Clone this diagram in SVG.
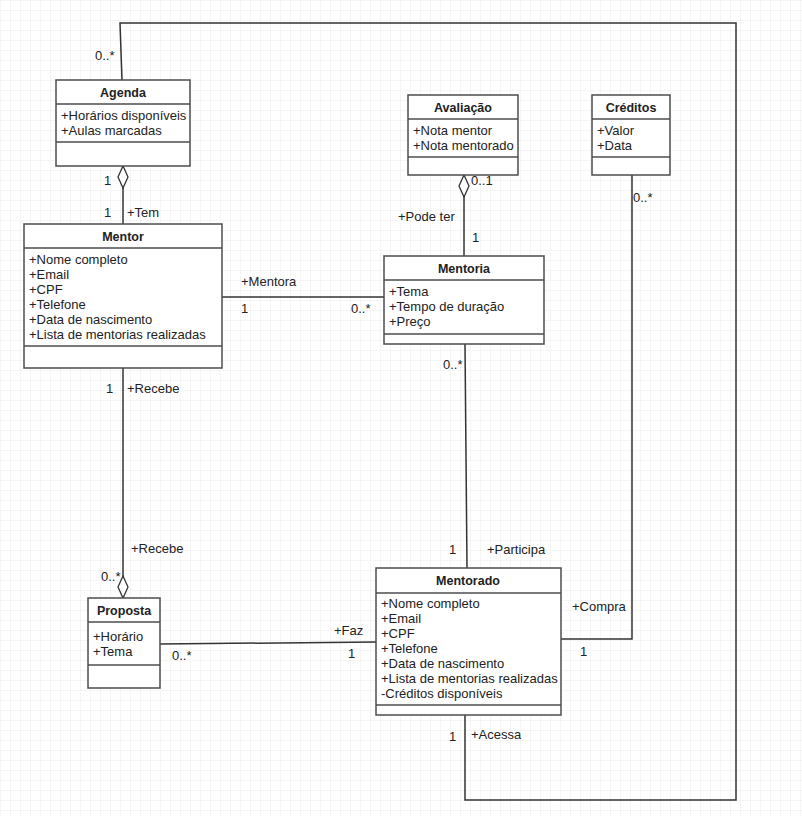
<svg xmlns="http://www.w3.org/2000/svg" width="802" height="816" viewBox="0 0 802 816">
<style>
.box{fill:#fff;stroke:#4d4d4d;stroke-width:1.5}
.ln{stroke:#4d4d4d;stroke-width:1.5;fill:none}
.c{stroke:#333;stroke-width:1.5;fill:none}
text{font-family:"Liberation Sans",Arial,sans-serif;font-size:13px;fill:#222}
.t{font-weight:bold;text-anchor:middle;font-size:12.5px}
</style>
<defs>
<pattern id="g" width="10" height="10" patternUnits="userSpaceOnUse"><path d="M10 0H0V10" fill="none" stroke="#ececec" stroke-width="1"/></pattern>
<marker id="dia" markerWidth="24" markerHeight="12" refX="23" refY="6" orient="auto" markerUnits="userSpaceOnUse"><path d="M1 6 L12 1 L23 6 L12 11 Z" fill="#fff" stroke="#333" stroke-width="1.3"/></marker>
</defs>
<rect width="802" height="816" fill="#fff"/>
<rect width="802" height="816" fill="url(#g)"/>
<g id="connectors">
<path class="c" d="M122 80 L120 23 L736 23 L736 800 L465 800 L465 715"/>
<path class="c" d="M123 224 L123 166" marker-end="url(#dia)"/>
<path class="c" d="M222 297 L384 297"/>
<path class="c" d="M464 256 L464 175" marker-end="url(#dia)"/>
<path class="c" d="M465 344 L467 568"/>
<path class="c" d="M632 175 L632 639 L561 639"/>
<path class="c" d="M123 368 L123 598" marker-end="url(#dia)"/>
<path class="c" d="M160 644 L376 642"/>
</g>
<g id="labels">
<text x="95" y="60">0..*</text>
<text x="104" y="185">1</text>
<text x="104" y="217">1</text>
<text x="127" y="217">+Tem</text>
<text x="241" y="286">+Mentora</text>
<text x="241" y="313">1</text>
<text x="351" y="313">0..*</text>
<text x="471" y="185">0..1</text>
<text x="398" y="221">+Pode ter</text>
<text x="472" y="242">1</text>
<text x="633" y="202">0..*</text>
<text x="106" y="393">1</text>
<text x="127" y="393">+Recebe</text>
<text x="443" y="369">0..*</text>
<text x="131" y="553">+Recebe</text>
<text x="101" y="581">0..*</text>
<text x="449" y="554">1</text>
<text x="487" y="554">+Participa</text>
<text x="572" y="611">+Compra</text>
<text x="580" y="656">1</text>
<text x="334" y="635">+Faz</text>
<text x="348" y="658">1</text>
<text x="172" y="660">0..*</text>
<text x="449" y="741">1</text>
<text x="471" y="739">+Acessa</text>
</g>
<g id="agenda">
<rect class="box" x="56" y="80" width="134" height="86"/>
<path class="ln" d="M56 104H190M56 142H190"/>
<text class="t" x="123" y="97">Agenda</text>
<text x="61" y="120">+Horários disponíveis</text>
<text x="61" y="135">+Aulas marcadas</text>
</g>
<g id="mentor">
<rect class="box" x="24" y="224" width="198" height="144"/>
<path class="ln" d="M24 248H222M24 346H222"/>
<text class="t" x="123" y="241">Mentor</text>
<text x="29" y="264">+Nome completo</text>
<text x="29" y="279">+Email</text>
<text x="29" y="294">+CPF</text>
<text x="29" y="309">+Telefone</text>
<text x="29" y="324">+Data de nascimento</text>
<text x="29" y="339">+Lista de mentorias realizadas</text>
</g>
<g id="avaliacao">
<rect class="box" x="408" y="95" width="110" height="80"/>
<path class="ln" d="M408 119H518M408 157H518"/>
<text class="t" x="463" y="112">Avaliação</text>
<text x="413" y="135">+Nota mentor</text>
<text x="413" y="150">+Nota mentorado</text>
</g>
<g id="creditos">
<rect class="box" x="592" y="95" width="78" height="80"/>
<path class="ln" d="M592 119H670M592 157H670"/>
<text class="t" x="631" y="112">Créditos</text>
<text x="597" y="135">+Valor</text>
<text x="597" y="150">+Data</text>
</g>
<g id="mentoria">
<rect class="box" x="384" y="256" width="160" height="88"/>
<path class="ln" d="M384 280H544M384 334H544"/>
<text class="t" x="464" y="273">Mentoria</text>
<text x="389" y="296">+Tema</text>
<text x="389" y="311">+Tempo de duração</text>
<text x="389" y="326">+Preço</text>
</g>
<g id="proposta">
<rect class="box" x="88" y="598" width="72" height="90"/>
<path class="ln" d="M88 622H160M88 665H160"/>
<text class="t" x="124" y="615">Proposta</text>
<text x="93" y="641">+Horário</text>
<text x="93" y="656">+Tema</text>
</g>
<g id="mentorado">
<rect class="box" x="376" y="568" width="185" height="147"/>
<path class="ln" d="M376 593H561M376 705H561"/>
<text class="t" x="468" y="585">Mentorado</text>
<text x="381" y="608">+Nome completo</text>
<text x="381" y="623">+Email</text>
<text x="381" y="638">+CPF</text>
<text x="381" y="653">+Telefone</text>
<text x="381" y="668">+Data de nascimento</text>
<text x="381" y="683">+Lista de mentorias realizadas</text>
<text x="381" y="698">-Créditos disponíveis</text>
</g>
</svg>
